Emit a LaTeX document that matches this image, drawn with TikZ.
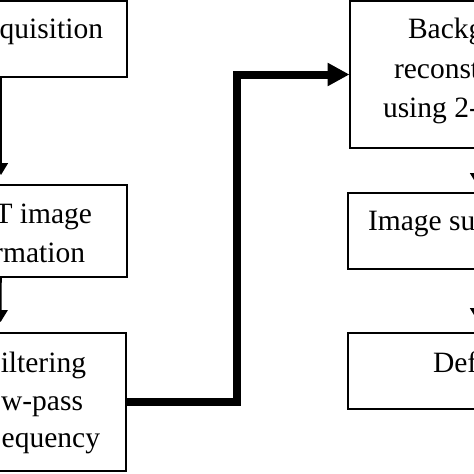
\documentclass[tikz,border=0pt]{standalone}
\usepackage{fontspec}
\setmainfont{Liberation Serif}
\usetikzlibrary{arrows.meta}
\begin{document}
\begin{tikzpicture}[x=1pt,y=-1pt,
  boxnode/.style={draw=black, line width=2pt, fill=white, inner sep=0pt, outer sep=0pt, rectangle},
  txt/.style={inner sep=0pt, outer sep=0pt, font=\fontsize{29.5}{39}\selectfont},
  flow/.style={draw=black, line width=1.6pt, -{Triangle[length=12pt,width=14pt]}},
  bigflow/.style={draw=black, line width=8pt, -{Triangle[length=22pt,width=22pt]}}]
\useasboundingbox (0,0) rectangle (474,474);
\fill[white] (0,0) rectangle (474,474);
\clip (0,0) rectangle (474,474);
% left column boxes
\node[boxnode, minimum width=252pt, minimum height=76pt] (bl1) at (1,39) {};
\node[boxnode, minimum width=252pt, minimum height=92pt] (bl2) at (1,231) {};
\node[boxnode, minimum width=251pt, minimum height=138pt] (bl3) at (0.5,402) {};
% right column boxes
\node[boxnode, minimum width=255pt, minimum height=147pt] (br1) at (477,74.5) {};
\node[boxnode, minimum width=258pt, minimum height=76pt] (br2) at (477,231) {};
\node[boxnode, minimum width=258pt, minimum height=76pt] (br3) at (477,371) {};
% texts left
\node[txt, anchor=base east] (tl1) at (103,38) {quisition};
\node[txt, anchor=base east] (tl2a) at (92,223) {T image};
\node[txt, anchor=base east] (tl2b) at (85,262) {rmation};
\node[txt, anchor=base east] (tl3a) at (86,372) {iltering};
\node[txt, anchor=base east] (tl3b) at (83,410) {w-pass};
\node[txt, anchor=base east] (tl3c) at (100,447) {equency};
% texts right
\node[txt, anchor=base west] (tr1a) at (408,38) {Backg};
\node[txt, anchor=base west] (tr1b) at (394,78) {reconst};
\node[txt, anchor=base west] (tr1c) at (383,117) {using 2-};
\node[txt, anchor=base west] (tr2) at (368,230) {Image su};
\node[txt, anchor=base west] (tr3) at (433,372) {Def};
% arrows
\draw[flow, shorten >=10pt] (bl1.south) -- (bl2.north);
\draw[flow, shorten >=11pt] (bl2.south) -- (bl3.north);
\draw[flow, shorten >=8pt] (br1.south -| br2.north) -- (br2.north);
\draw[flow, shorten >=13pt] (br2.south) -- (br3.north);
\coordinate (bend) at (237,402);
\draw[bigflow] (bl3.east) -- (bend) |- (br1.west);
\end{tikzpicture}
\end{document}
